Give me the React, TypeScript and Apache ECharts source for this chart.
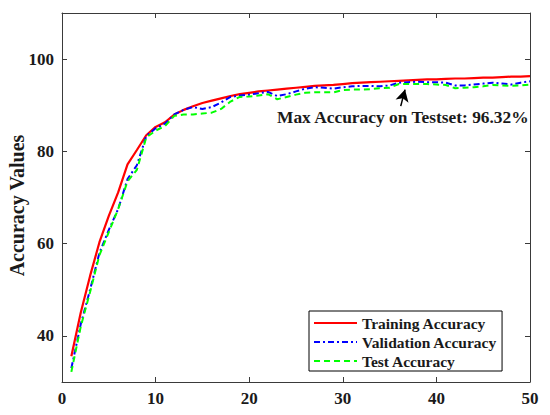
import React, { useEffect, useRef } from "react";
import * as echarts from "echarts";

const epochs = [
  1, 2, 3, 4, 5, 6, 7, 8, 9, 10, 11, 12, 13, 14, 15, 16, 17, 18, 19, 20, 21, 22, 23, 24, 25,
  26, 27, 28, 29, 30, 31, 32, 33, 34, 35, 36, 37, 38, 39, 40, 41, 42, 43, 44, 45, 46, 47, 48, 49, 50,
];

const trainingAcc = [
  35.6, 45.0, 53.0, 60.3, 66.0, 71.1, 77.2, 80.3, 83.5, 85.3, 86.3, 88.0, 89.0, 89.8, 90.5,
  91.0, 91.5, 92.0, 92.4, 92.7, 93.0, 93.2, 93.4, 93.6, 93.8, 94.0, 94.2, 94.3, 94.4, 94.6,
  94.8, 94.9, 95.0, 95.1, 95.2, 95.3, 95.4, 95.5, 95.6, 95.6, 95.7, 95.8, 95.8, 95.9, 96.0,
  96.0, 96.1, 96.2, 96.2, 96.3,
];

const validationAcc = [
  33.0, 42.5, 50.0, 58.0, 63.0, 67.5, 74.0, 77.0, 83.3, 85.0, 86.0, 88.0, 89.0, 89.6, 89.2,
  89.6, 90.6, 91.8, 92.1, 92.3, 92.6, 92.9, 92.0, 92.4, 93.0, 93.6, 93.9, 93.8, 93.6, 93.9,
  94.1, 94.2, 94.2, 94.1, 94.3, 94.9, 95.0, 95.1, 95.0, 95.0, 94.9, 94.3, 94.3, 94.5, 94.7,
  94.9, 94.7, 94.5, 94.9, 95.2,
];

const testAcc = [
  32.2, 42.0, 49.5, 57.5, 62.5, 67.5, 73.5, 76.0, 83.0, 84.5, 85.5, 87.7, 88.0, 88.0, 88.2,
  88.4, 89.2, 90.8, 91.8, 91.9, 92.1, 92.4, 91.3, 91.8, 92.3, 92.7, 92.8, 92.8, 92.8, 93.3,
  93.4, 93.4, 93.5, 93.7, 93.8, 94.6, 94.6, 94.6, 94.6, 94.5, 94.4, 93.7, 93.8, 93.9, 94.1,
  94.4, 94.3, 94.2, 94.3, 94.5,
];

const seriesNames = ["Training Accuracy", "Validation Accuracy", "Test Accuracy"];
const xTicks = [0, 10, 20, 30, 40, 50];
const yTicks = [40, 60, 80, 100];
const annotationText = "Max Accuracy on Testset: 96.32%";
const arrowTail = [36.19, 89.8];
const arrowHead = [36.65, 93.4];

const FONT = "'Liberation Serif', 'Times New Roman', serif";
const AXIS_COLOR = "#3a3a3a";
const TEXT_COLOR = "#1a1a1a";

export default function App() {
  const ref = useRef<HTMLDivElement>(null);

  useEffect(() => {
    document.body.style.margin = "0";
    if (!ref.current) return;
    const chart = echarts.init(ref.current, undefined, { renderer: "svg" });

    const pairs = (vals: number[]) => epochs.map((e, i) => [e, vals[i]]);

    const commonX = {
      type: "value" as const,
      min: 0,
      max: 50,
      interval: 10,
      splitLine: { show: false },
      axisLine: { show: true, lineStyle: { color: AXIS_COLOR, width: 1 } },
    };
    const commonY = {
      type: "value" as const,
      min: 30,
      max: 110,
      splitLine: { show: false },
      axisLine: { show: true, onZero: false, lineStyle: { color: AXIS_COLOR, width: 1 } },
    };

    chart.setOption({
      animation: false,
      backgroundColor: "#ffffff",
      grid: {
        left: 62,
        top: 13,
        right: 20,
        bottom: 33,
        containLabel: false,
        outerBoundsMode: "none",
      },
      xAxis: [
        {
          ...commonX,
          position: "bottom",
          axisTick: { show: true, inside: true, length: 5, lineStyle: { color: AXIS_COLOR } },
          axisLabel: {
            show: true,
            margin: 8,
            fontFamily: FONT,
            fontWeight: "bold",
            fontSize: 17,
            color: TEXT_COLOR,
            customValues: xTicks,
          },
        },
        {
          ...commonX,
          position: "top",
          axisTick: { show: true, inside: true, length: 5, lineStyle: { color: AXIS_COLOR } },
          axisLabel: { show: false },
        },
      ],
      yAxis: [
        {
          ...commonY,
          position: "left",
          name: "Accuracy Values",
          nameLocation: "middle",
          nameGap: 35,
          nameMoveOverlap: false,
          nameTextStyle: {
            fontFamily: FONT,
            fontWeight: "bold",
            fontSize: 20,
            color: TEXT_COLOR,
            padding: [0, 16, 0, 0],
          },
          axisTick: {
            show: true,
            inside: true,
            length: 5,
            customValues: yTicks,
            lineStyle: { color: AXIS_COLOR },
          },
          axisLabel: {
            show: true,
            margin: 8,
            fontFamily: FONT,
            fontWeight: "bold",
            fontSize: 17,
            color: TEXT_COLOR,
            customValues: yTicks,
          },
        },
        {
          ...commonY,
          position: "right",
          axisTick: {
            show: true,
            inside: true,
            length: 5,
            customValues: yTicks,
            lineStyle: { color: AXIS_COLOR },
          },
          axisLabel: { show: false },
        },
      ],
      legend: {
        orient: "vertical",
        left: 309,
        top: 311,
        data: seriesNames,
        borderColor: "#000",
        borderWidth: 1,
        padding: [4, 5, 2, 4],
        itemWidth: 43,
        itemHeight: 12,
        itemGap: 3,
        backgroundColor: "#fff",
        itemStyle: { opacity: 0 },
        textStyle: {
          fontFamily: FONT,
          fontWeight: "bold",
          fontSize: 15.5,
          lineHeight: 15.5,
          color: TEXT_COLOR,
        },
      },
      series: [
        {
          name: seriesNames[0],
          type: "line",
          data: pairs(trainingAcc),
          symbol: "none",
          lineStyle: { color: "#ff0000", width: 2.2 },
          itemStyle: { color: "#ff0000" },
          z: 2,
        },
        {
          name: seriesNames[1],
          type: "line",
          data: pairs(validationAcc),
          symbol: "none",
          lineStyle: { color: "#0000ff", width: 2, type: [6, 3, 2, 3] },
          itemStyle: { color: "#0000ff" },
          z: 3,
        },
        {
          name: seriesNames[2],
          type: "line",
          data: pairs(testAcc),
          symbol: "none",
          lineStyle: { color: "#00ff00", width: 2, type: [6, 4] },
          itemStyle: { color: "#00ff00" },
          z: 4,
          markLine: {
            silent: true,
            symbol: ["none", "arrow"],
            symbolSize: [10, 12],
            label: { show: false },
            lineStyle: { color: "#000", width: 1.5, type: "solid" },
            data: [[{ coord: arrowTail }, { coord: arrowHead }]],
          },
        },
      ],
      graphic: [
        {
          type: "text",
          x: 277,
          y: 117,
          style: {
            text: annotationText,
            fontFamily: FONT,
            fontWeight: "bold",
            fontSize: 17.4,
            fill: TEXT_COLOR,
            verticalAlign: "middle",
          },
        },
      ],
    });

    return () => chart.dispose();
  }, []);

  return <div ref={ref} style={{ width: 550, height: 415 }} />;
}
